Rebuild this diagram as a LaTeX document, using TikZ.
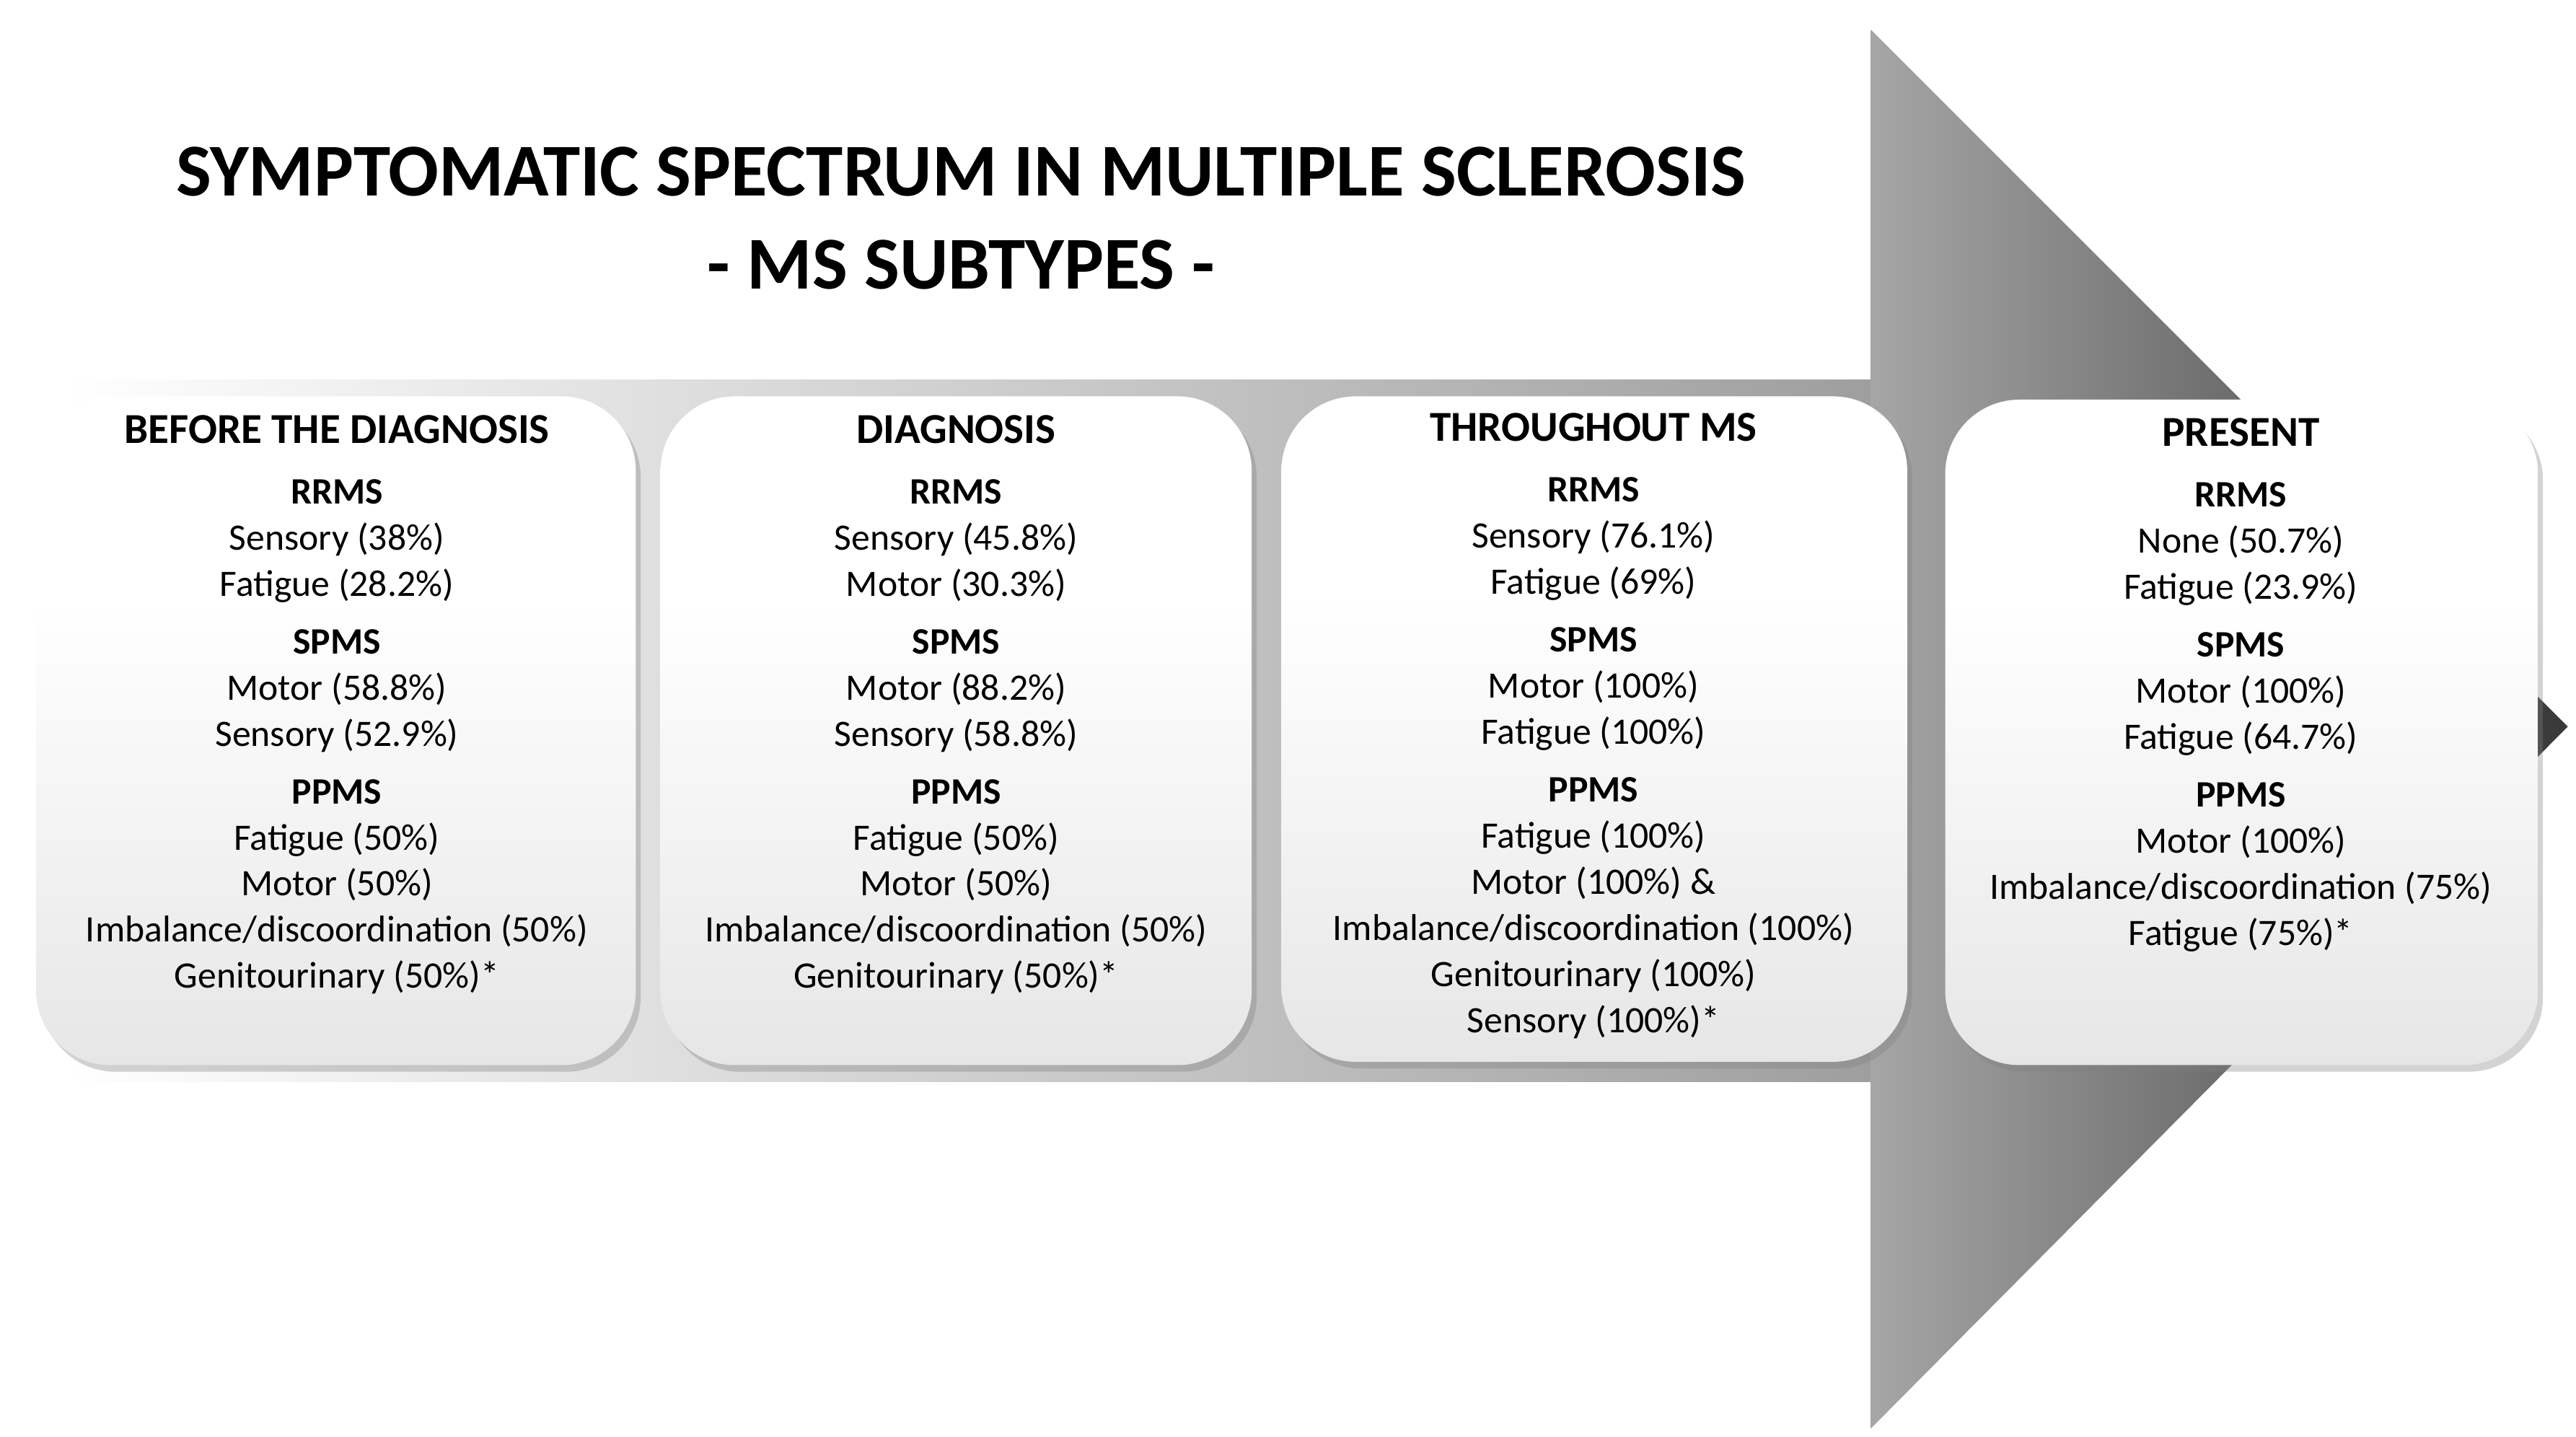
\documentclass[tikz,border=0pt]{standalone}
\usepackage{fontspec}
\setmainfont{Carlito}
\usetikzlibrary{shadows,shadings}
\pgfdeclareverticalshading{boxsh}{100bp}{color(0bp)=(black!17); color(45bp)=(black!4); color(60bp)=(white); color(100bp)=(white)}
\begin{document}
\begin{tikzpicture}[x=0.02cm,y=-0.02cm,
  box/.style={rounded corners=0.9cm,shading=boxsh,
    drop shadow={shadow xshift=0.06cm,shadow yshift=-0.08cm,opacity=0.35}},
  txt/.style={align=center,anchor=north,font=\fontsize{12.85pt}{15.9pt}\selectfont,inner sep=0pt},
  hd/.style={font=\bfseries\fontsize{14.7pt}{16pt}\selectfont},
  ttl/.style={align=center,font=\bfseries\fontsize{25.7pt}{32pt}\selectfont}]
\useasboundingbox (0,0) rectangle (1560,870);
\shade[left color=white,right color=black!38] (40,230) rectangle (1134,655);
\shade[left color=black!35,right color=black!78] (1133,18) -- (1555,440) -- (1133,865) -- cycle;
\node[ttl] (title) at (582,132) {SYMPTOMATIC SPECTRUM IN MULTIPLE SCLEROSIS\\- MS SUBTYPES -};
\newcommand{\gp}{\\[4pt]}
\newcommand{\hdr}[1]{{\bfseries\fontsize{14.7pt}{16pt}\selectfont #1}}
\path[box] (22,240) rectangle (385,645);
\path[box] (400,240) rectangle (758,645);
\path[box] (776,240) rectangle (1155,643);
\path[box] (1178,242) rectangle (1537,645);
\node[txt] (b1) at (204,251) {\hdr{BEFORE THE DIAGNOSIS}\\[5pt]\textbf{RRMS}\\Sensory (38\%)\\Fatigue (28.2\%)\gp\textbf{SPMS}\\Motor (58.8\%)\\Sensory (52.9\%)\gp\textbf{PPMS}\\Fatigue (50\%)\\Motor (50\%)\\Imbalance/discoordination (50\%)\\Genitourinary (50\%)*};
\node[txt] (b2) at (579,251) {\hdr{DIAGNOSIS}\\[5pt]\textbf{RRMS}\\Sensory (45.8\%)\\Motor (30.3\%)\gp\textbf{SPMS}\\Motor (88.2\%)\\Sensory (58.8\%)\gp\textbf{PPMS}\\Fatigue (50\%)\\Motor (50\%)\\Imbalance/discoordination (50\%)\\Genitourinary (50\%)*};
\node[txt] (b3) at (965,250) {\hdr{THROUGHOUT MS}\\[5pt]\textbf{RRMS}\\Sensory (76.1\%)\\Fatigue (69\%)\gp\textbf{SPMS}\\Motor (100\%)\\Fatigue (100\%)\gp\textbf{PPMS}\\Fatigue (100\%)\\Motor (100\%) \&\\Imbalance/discoordination (100\%)\\Genitourinary (100\%)\\Sensory (100\%)*};
\node[txt] (b4) at (1357,253) {\hdr{PRESENT}\\[5pt]\textbf{RRMS}\\None (50.7\%)\\Fatigue (23.9\%)\gp\textbf{SPMS}\\Motor (100\%)\\Fatigue (64.7\%)\gp\textbf{PPMS}\\Motor (100\%)\\Imbalance/discoordination (75\%)\\Fatigue (75\%)*};
\end{tikzpicture}
\end{document}
